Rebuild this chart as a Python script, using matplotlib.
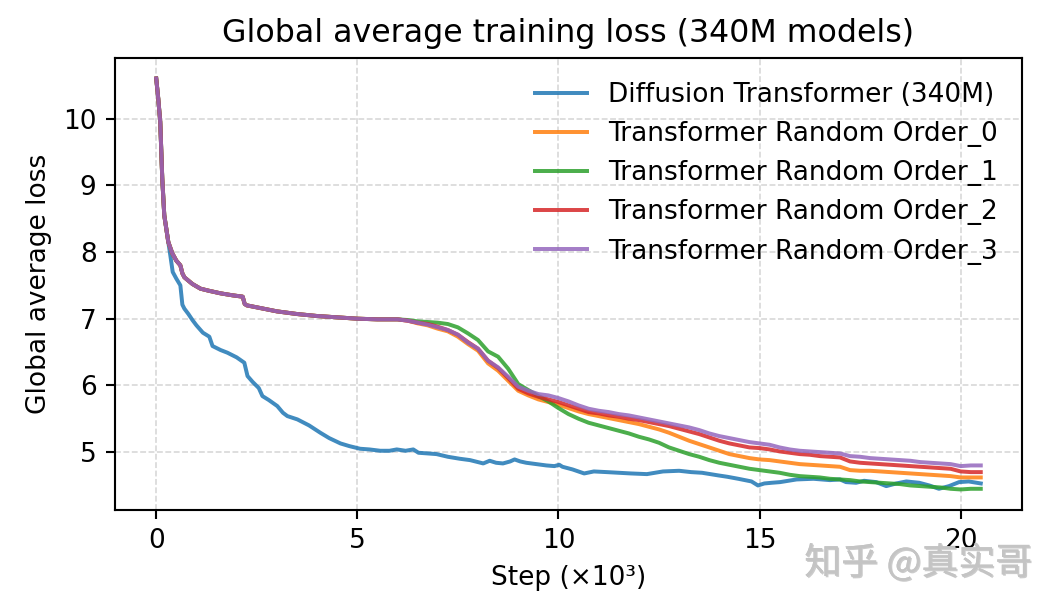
import matplotlib
matplotlib.use("Agg")
import matplotlib.pyplot as plt
import matplotlib.patheffects as pe

# ---------------- data (steps in thousands) ----------------
diff_x = [0, 0.05, 0.1, 0.15, 0.2, 0.3, 0.35, 0.41, 0.5, 0.6, 0.65, 0.7, 0.8, 0.9, 1.0,
          1.16, 1.32, 1.40, 1.6, 1.77, 2.0, 2.19, 2.27, 2.4, 2.55, 2.64, 2.8, 3.01, 3.15,
          3.26, 3.51, 3.8, 4.08, 4.3, 4.58, 4.8, 5.07, 5.3, 5.57, 5.8, 5.98, 6.2, 6.39,
          6.52, 6.75, 6.97, 7.25, 7.55, 7.8, 8.0, 8.13, 8.29, 8.45, 8.62, 8.8, 8.91, 9.05,
          9.2, 9.45, 9.7, 9.9, 10.02, 10.1, 10.35, 10.64, 10.88, 11.2, 11.5, 11.8, 12.2,
          12.6, 13.0, 13.3, 13.57, 13.98, 14.2, 14.47, 14.8, 14.96, 15.12, 15.3, 15.51,
          15.92, 16.34, 16.75, 17.0, 17.15, 17.4, 17.6, 17.9, 18.15, 18.4, 18.65, 18.97,
          19.22, 19.46, 19.71, 19.96, 20.2, 20.5]
diff_y = [10.6, 10.3, 9.95, 9.1, 8.55, 8.15, 7.95, 7.70, 7.60, 7.50, 7.21, 7.15, 7.07, 6.98, 6.90,
          6.79, 6.73, 6.59, 6.53, 6.49, 6.42, 6.34, 6.14, 6.05, 5.96, 5.84, 5.78, 5.69, 5.59,
          5.54, 5.49, 5.40, 5.29, 5.21, 5.13, 5.09, 5.05, 5.04, 5.02, 5.02, 5.04, 5.02, 5.04,
          4.99, 4.98, 4.97, 4.93, 4.90, 4.88, 4.85, 4.83, 4.87, 4.84, 4.83, 4.86, 4.89, 4.86,
          4.84, 4.82, 4.80, 4.79, 4.81, 4.78, 4.74, 4.68, 4.71, 4.70, 4.69, 4.68, 4.67,
          4.71, 4.72, 4.70, 4.69, 4.65, 4.63, 4.60, 4.56, 4.50, 4.53, 4.54, 4.55,
          4.59, 4.60, 4.58, 4.59, 4.55, 4.54, 4.57, 4.55, 4.49, 4.53, 4.56, 4.54,
          4.50, 4.45, 4.49, 4.55, 4.56, 4.53]

# shared early part of the four random-order Transformer runs
tr_head_x = [0, 0.05, 0.1, 0.15, 0.2, 0.3, 0.4, 0.5, 0.6, 0.65, 0.7, 0.9, 1.1, 1.3, 1.6,
             1.9, 2.15, 2.2, 2.25, 2.5, 3.0, 3.5, 4.0, 4.5, 5.0, 5.5, 6.0]
tr_head_y = [10.6, 10.3, 9.95, 9.1, 8.55, 8.15, 7.98, 7.87, 7.80, 7.68, 7.62, 7.52, 7.45, 7.42, 7.38,
             7.35, 7.33, 7.22, 7.20, 7.17, 7.11, 7.07, 7.04, 7.02, 7.00, 6.99, 6.99]

tr_tail_x = [6.25, 6.5, 6.75, 7.0, 7.25, 7.5, 7.75, 8.0, 8.25, 8.5, 8.75, 9.0, 9.25, 9.5, 9.75,
             10.0, 10.25, 10.5, 10.75, 11.0, 11.25, 11.5, 11.75, 12.0, 12.25, 12.5, 12.75,
             13.0, 13.25, 13.5, 13.75, 14.0, 14.25, 14.5, 14.75, 15.0, 15.25, 15.5, 15.75,
             16.0, 16.25, 16.5, 16.75, 17.0, 17.25, 17.5, 17.75, 18.0, 18.25, 18.5, 18.75,
             19.0, 19.25, 19.5, 19.75, 20.0, 20.25, 20.5]

order0_tail = [6.97, 6.93, 6.90, 6.85, 6.81, 6.73, 6.62, 6.52, 6.33, 6.22, 6.07, 5.92, 5.85, 5.79, 5.75,
               5.71, 5.66, 5.61, 5.57, 5.54, 5.51, 5.48, 5.45, 5.42, 5.38, 5.34, 5.29,
               5.23, 5.17, 5.12, 5.07, 5.02, 4.97, 4.94, 4.91, 4.89, 4.88, 4.86, 4.84,
               4.82, 4.81, 4.80, 4.79, 4.78, 4.73, 4.72, 4.72, 4.71, 4.70, 4.69, 4.68,
               4.67, 4.66, 4.65, 4.64, 4.62, 4.62, 4.62]
order1_tail = [6.98, 6.96, 6.95, 6.94, 6.92, 6.87, 6.78, 6.68, 6.51, 6.43, 6.25, 6.02, 5.93, 5.84, 5.76,
               5.66, 5.57, 5.50, 5.44, 5.40, 5.36, 5.32, 5.28, 5.23, 5.19, 5.14, 5.07,
               5.02, 4.97, 4.93, 4.88, 4.84, 4.81, 4.78, 4.75, 4.73, 4.71, 4.69, 4.66,
               4.64, 4.63, 4.62, 4.60, 4.59, 4.58, 4.56, 4.55, 4.54, 4.53, 4.52, 4.50,
               4.49, 4.48, 4.47, 4.45, 4.44, 4.45, 4.45]
order2_tail = [6.97, 6.94, 6.92, 6.88, 6.83, 6.76, 6.65, 6.55, 6.37, 6.26, 6.11, 5.95, 5.88, 5.83, 5.79,
               5.75, 5.70, 5.65, 5.60, 5.58, 5.55, 5.53, 5.50, 5.48, 5.45, 5.42, 5.39,
               5.35, 5.31, 5.27, 5.22, 5.17, 5.13, 5.10, 5.07, 5.06, 5.04, 5.01, 4.99,
               4.97, 4.96, 4.94, 4.93, 4.92, 4.86, 4.84, 4.83, 4.82, 4.81, 4.80, 4.79,
               4.78, 4.77, 4.76, 4.75, 4.71, 4.70, 4.70]
order3_tail = [6.97, 6.94, 6.91, 6.87, 6.83, 6.76, 6.64, 6.55, 6.37, 6.27, 6.13, 5.98, 5.92, 5.87, 5.85,
               5.81, 5.76, 5.70, 5.65, 5.62, 5.60, 5.57, 5.55, 5.52, 5.49, 5.46, 5.43,
               5.40, 5.37, 5.33, 5.28, 5.24, 5.21, 5.18, 5.15, 5.13, 5.11, 5.07, 5.04,
               5.02, 5.01, 5.00, 4.99, 4.98, 4.94, 4.93, 4.91, 4.90, 4.89, 4.88, 4.87,
               4.85, 4.84, 4.83, 4.82, 4.79, 4.80, 4.80]

labels = ["Diffusion Transformer (340M)", "Transformer Random Order_0",
          "Transformer Random Order_1", "Transformer Random Order_2",
          "Transformer Random Order_3"]
colors = ["#1f77b4", "#ff7f0e", "#2ca02c", "#d62728", "#9467bd"]

xticks = [0, 5, 10, 15, 20]
yticks = [5, 6, 7, 8, 9, 10]

# ---------------- plot ----------------
DPI = 190
fig = plt.figure(figsize=(1058 / DPI, 606 / DPI), dpi=DPI)
ax = fig.add_axes([115 / 1058, 1 - 510 / 606, (1022 - 115) / 1058, (510 - 58) / 606])

tr_x = tr_head_x + tr_tail_x
series = [(diff_x, diff_y)] + [(tr_x, tr_head_y + t) for t in
                                (order0_tail, order1_tail, order2_tail, order3_tail)]
for (xs, ys), lab, c in zip(series, labels, colors):
    ax.plot(xs, ys, color=c, lw=1.5, alpha=0.85, label=lab)

ax.set_xticks(xticks)
ax.set_yticks(yticks)
ax.tick_params(labelsize=10)
ax.grid(True, linestyle="--", color="#cccccc", linewidth=0.6, alpha=0.8)
ax.set_axisbelow(True)
ax.set_title("Global average training loss (340M models)", fontsize=12)
ax.set_xlabel("Step (×10³)", fontsize=10)
ax.set_ylabel("Global average loss", fontsize=10)
ax.legend(loc="upper right", frameon=False, fontsize=10)

fig.text(0.868, 0.07, "知乎 @真实哥", fontsize=14, color="#c4c4c4",
         family=["Noto Sans CJK SC", "DejaVu Sans"], ha="center", va="center",
         path_effects=[pe.withSimplePatchShadow(offset=(0.5, -0.5), shadow_rgbFace="#999999", alpha=0.5),
                       pe.Normal()])

fig.savefig("out.png", dpi=DPI)
